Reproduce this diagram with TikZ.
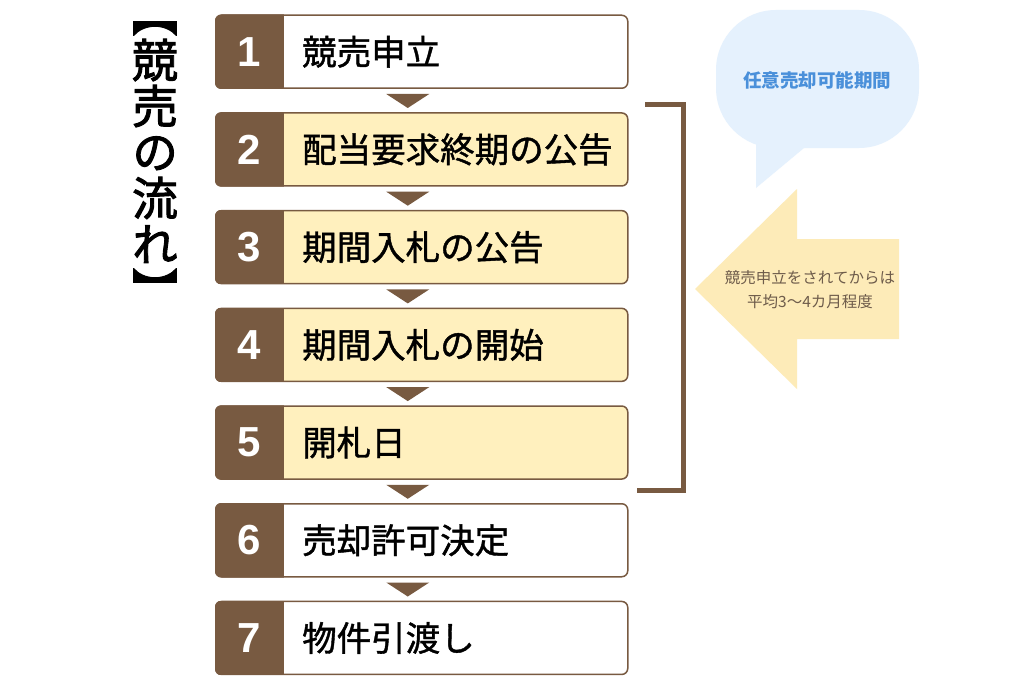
\documentclass[tikz,border=0pt]{standalone}
\usepackage{fontspec}
\setmainfont{Noto Sans CJK JP}
\newfontfamily\medfont{Noto Sans CJK JP}[FakeBold=1.2]
\newfontfamily\titlefont{Noto Sans CJK JP}[FakeBold=2]
\newfontfamily\titlevfont{Noto Sans CJK JP}[FakeBold=2,RawFeature=+vert]
\newfontfamily\numfont{Liberation Sans}
\usetikzlibrary{calc}
\definecolor{brn}{HTML}{785A41}
\definecolor{ylw}{HTML}{FFF0BE}
\definecolor{bubblefill}{HTML}{E5F1FD}
\definecolor{bubbletext}{HTML}{4A90DA}
\definecolor{arrowfill}{HTML}{FDEBB8}
\definecolor{arrowtext}{HTML}{6E5C4B}
\begin{document}
\begin{tikzpicture}[x=1pt,y=-1pt,
  stepbox/.style={draw=brn, line width=1.5pt, rounded corners=6pt, minimum width=412pt, minimum height=73pt, inner sep=0pt, anchor=north west},
  numlabel/.style={text=white, font=\numfont\bfseries\fontsize{42}{42}\selectfont, inner sep=0pt},
  steplabel/.style={anchor=west, font=\medfont\fontsize{34.5}{36}\selectfont, inner sep=0pt},
  titlechar/.style={font=\titlevfont\fontsize{46}{46}\selectfont, inner sep=0pt, anchor=base},
  flowtri/.style={fill=brn},
  bracketline/.style={draw=brn, line width=5pt}]
\path[use as bounding box] (0,0) rectangle (1024,682);
\fill[white] (0,0) rectangle (1024,682);

% steps
\foreach \i/\txt/\fc in {1/競売申立/white, 2/配当要求終期の公告/ylw, 3/期間入札の公告/ylw, 4/期間入札の開始/ylw, 5/開札日/ylw, 6/売却許可決定/white, 7/物件引渡し/white}{
  \pgfmathsetmacro\ytop{14.5+97.7*(\i-1)}
  \node[stepbox, fill=\fc] (b\i) at (215,\ytop) {};
  \begin{scope}
    \clip[rounded corners=6pt] (b\i.north west) rectangle (b\i.south east);
    \fill[brn] (b\i.north west) rectangle ($(b\i.south west)+(69,0)$);
  \end{scope}
  \node[numlabel] (n\i) at ($(b\i.west)+(34.5,0)$) {\i};
  \node[steplabel] (s\i) at ($(b\i.west)+(87,0)$) {\txt};
}
\foreach \i in {1,...,6}{
  \fill[flowtri] ($(b\i.south)+(-35.5,5)$) -- ++(43,0) -- ++(-21.5,14) -- cycle;
}

% title (vertical, one character per em box)
\foreach \c/\yy/\k in {【/31.5/1, 競/77.5/2, 売/123.5/3, の/169.5/4, 流/215.5/5, れ/261.5/6, 】/307.5/7}{
  \node[titlechar] (t\k) at (155,\yy) {\c};
}

% bracket
\coordinate (brA) at (645,105);
\coordinate (brB) at (683,105);
\coordinate (brC) at (683,490);
\coordinate (brD) at (637,490);
\draw[bracketline] (brA) -- (brB) -- (brC) -- (brD);

% bubble
\fill[bubblefill, rounded corners=60pt] (716,10) rectangle (919,148);
\fill[bubblefill] (756,120) -- (756,188) -- (804,148) -- (804,120) -- cycle;
\node[font=\bfseries\fontsize{18.5}{20}\selectfont, text=bubbletext, inner sep=0pt] (bubble) at (817,80) {任意売却可能期間};

% arrow
\fill[arrowfill] (695,289) -- (797,189) -- (797,239) -- (899,239) -- (899,339) -- (797,339) -- (797,389) -- cycle;
\node[align=center, font=\fontsize{15.5}{24}\selectfont, text=arrowtext, inner sep=0pt] (note) at (810,290) {競売申立をされてからは\\平均3〜4カ月程度};
\end{tikzpicture}
\end{document}
